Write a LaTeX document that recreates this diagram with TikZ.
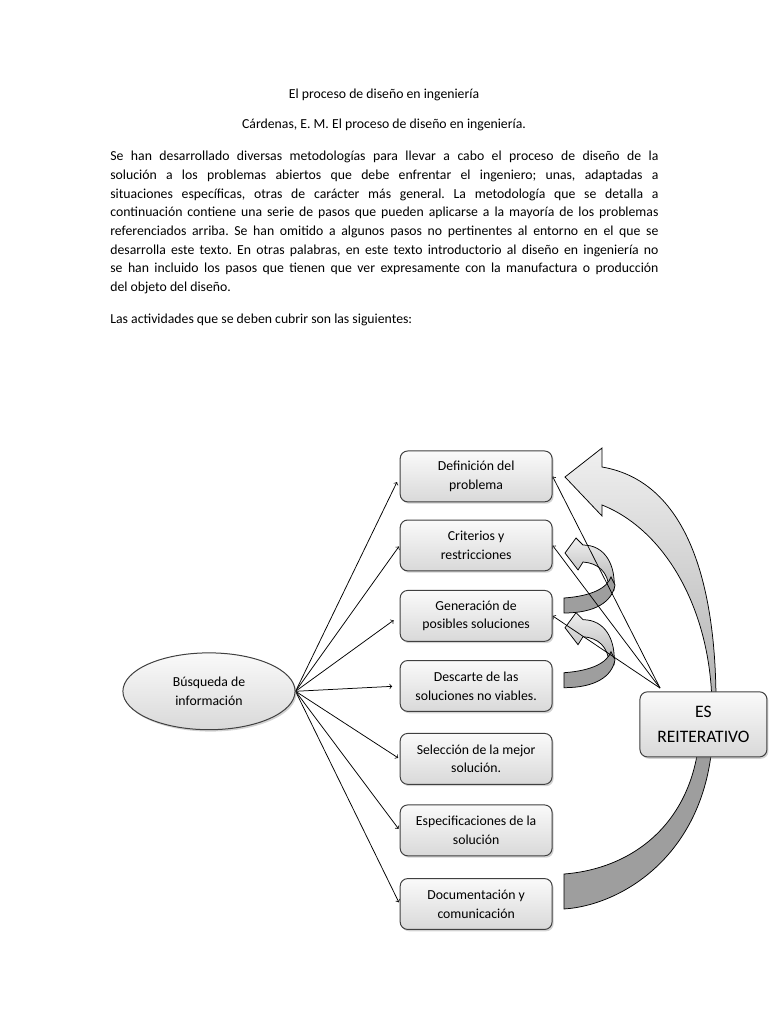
\documentclass[tikz,border=0pt]{standalone}
\usepackage{fontspec}
\setmainfont{Carlito}
\usetikzlibrary{shapes,shadows}
\pgfdeclarelayer{edgelayer}
\pgfdeclarelayer{nodelayer}
\pgfsetlayers{edgelayer,nodelayer,main}
\tikzset{font=\fontsize{11pt}{15pt}\selectfont}
\tikzstyle{none}=[inner sep=0pt]
\tikzstyle{paso}=[rectangle,rounded corners=6pt,draw=black!75,line width=0.8pt,top color=gray!4,bottom color=gray!30,minimum width=4.27cm,minimum height=1.43cm,align=center,drop shadow={shadow xshift=1.2pt,shadow yshift=-1.5pt,opacity=0.35}]
\tikzstyle{busqueda}=[ellipse,draw=black!75,line width=0.8pt,top color=gray!4,bottom color=gray!30,minimum width=4.84cm,minimum height=2.16cm,align=center,drop shadow={shadow xshift=1.2pt,shadow yshift=-1.5pt,opacity=0.35}]
\tikzstyle{reiterativo}=[paso,minimum width=3.57cm,minimum height=1.83cm,font=\fontsize{14pt}{20.5pt}\selectfont]
\tikzstyle{flecha}=[->,line width=0.6pt]
\tikzstyle{cintaclara}=[draw=black,line width=0.6pt,top color=gray!12,bottom color=gray!62]
\tikzstyle{cintaoscura}=[draw=black,line width=0.6pt,fill=black!38]

\begin{document}
\begin{tikzpicture}
	\useasboundingbox (-10.795, 14.393) rectangle (10.795, -14.393);
	\begin{pgfonlayer}{nodelayer}
		\node [style=none, anchor=base] (10) at (0, 11.61) {El proceso de diseño en ingeniería};
		\node [style=none, anchor=base] (11) at (0, 10.77) {Cárdenas, E. M. El proceso de diseño en ingeniería.};
		\node [style=none, anchor=base west, text width=15.41cm, align=justify, font=\fontsize{11pt}{14.9pt}\selectfont] (12) at (-7.70, 9.87) {\frenchspacing\tolerance=9999\hyphenpenalty=10000\relax Se han desarrollado diversas metodologías para llevar a cabo el proceso de diseño de la\linebreak solución a los problemas abiertos que debe enfrentar el ingeniero; unas, adaptadas a\linebreak situaciones específicas, otras de carácter más general. La metodología que se detalla a\linebreak continuación contiene una serie de pasos que pueden aplicarse a la mayoría de los problemas\linebreak referenciados arriba. Se han omitido a algunos pasos no pertinentes al entorno en el que se\linebreak desarrolla este texto. En otras palabras, en este texto introductorio al diseño en ingeniería no\linebreak se han incluido los pasos que tienen que ver expresamente con la manufactura o producción\linebreak del objeto del diseño.};
		\node [style=none, anchor=base west] (13) at (-7.70, 5.31) {Las actividades que se deben cubrir son las siguientes:};
		\node [style=busqueda] (0) at (-4.92, -5.04) {Búsqueda de\\información};
		\node [style=paso] (1) at (2.59, 1.00) {Definición del\\problema};
		\node [style=paso] (2) at (2.59, -0.94) {Criterios y\\restricciones};
		\node [style=paso] (3) at (2.59, -2.92) {Generación de\\posibles soluciones};
		\node [style=paso] (4) at (2.59, -4.89) {Descarte de las\\soluciones no viables.};
		\node [style=paso] (5) at (2.59, -6.94) {Selección de la mejor\\solución.};
		\node [style=paso] (6) at (2.59, -8.95) {Especificaciones de la\\solución};
		\node [style=paso] (7) at (2.59, -11.02) {Documentación y\\comunicación};
		\node [style=reiterativo] (8) at (8.98, -5.97) {ES\\REITERATIVO};
		\node [style=none] (9) at (7.76, -4.95) {};
	\end{pgfonlayer}
	\begin{pgfonlayer}{edgelayer}
		\draw [style=cintaoscura] (5.060, -10.177) .. controls (7.197, -10.008) and (8.827, -8.518) .. (8.883, -5.988) -- (9.249, -5.988) .. controls (9.221, -9.502) and (6.775, -11.048) .. (5.060, -11.160) -- cycle;
		\draw [style=cintaclara] (9.333, -5.566) .. controls (9.361, -2.193) and (8.603, 0.843) .. (6.128, 1.265) -- (6.128, 1.799) -- (5.088, 0.984) -- (6.128, -0.112) -- (6.128, 0.197) .. controls (7.900, -0.506) and (9.221, -2.755) .. (9.221, -5.566) -- cycle;
		\draw [style=cintaclara] (6.466, -2.193) .. controls (6.522, -1.490) and (6.213, -0.928) .. (5.594, -0.928) -- (5.398, -0.731) -- (5.088, -1.153) -- (5.454, -1.630) -- (5.594, -1.406) .. controls (6.016, -1.434) and (6.297, -1.687) .. (6.325, -2.137) -- cycle;
		\draw [style=cintaoscura] (5.060, -2.418) .. controls (5.847, -2.361) and (6.269, -2.137) .. (6.381, -1.827) -- (6.494, -2.052) .. controls (6.410, -2.530) and (5.932, -2.839) .. (5.060, -2.839) -- cycle;
		\draw [style=cintaclara, yshift=-2.1cm] (6.466, -2.193) .. controls (6.522, -1.490) and (6.213, -0.928) .. (5.594, -0.928) -- (5.398, -0.731) -- (5.088, -1.153) -- (5.454, -1.630) -- (5.594, -1.406) .. controls (6.016, -1.434) and (6.297, -1.687) .. (6.325, -2.137) -- cycle;
		\draw [style=cintaoscura, yshift=-2.1cm] (5.060, -2.418) .. controls (5.847, -2.361) and (6.269, -2.137) .. (6.381, -1.827) -- (6.494, -2.052) .. controls (6.410, -2.530) and (5.932, -2.839) .. (5.060, -2.839) -- cycle;
		\draw [style=flecha, shorten >=5pt] (0.east) to (1.west);
		\draw [style=flecha, shorten >=1pt] (0.east) to (2.west);
		\draw [style=flecha, shorten >=6pt] (0.east) to (3.west);
		\draw [style=flecha, shorten >=6pt] (0.east) to (4.west);
		\draw [style=flecha, shorten >=1.5pt] (0.east) to (5.west);
		\draw [style=flecha, shorten >=1.5pt] (0.east) to (6.west);
		\draw [style=flecha, shorten >=1.5pt] (0.east) to (7.west);
		\draw [style=flecha] (9.center) to (1.east);
		\draw [style=flecha] (9.center) to (2.east);
		\draw [style=flecha] (9.center) to (3.east);
	\end{pgfonlayer}
\end{tikzpicture}
\end{document}
